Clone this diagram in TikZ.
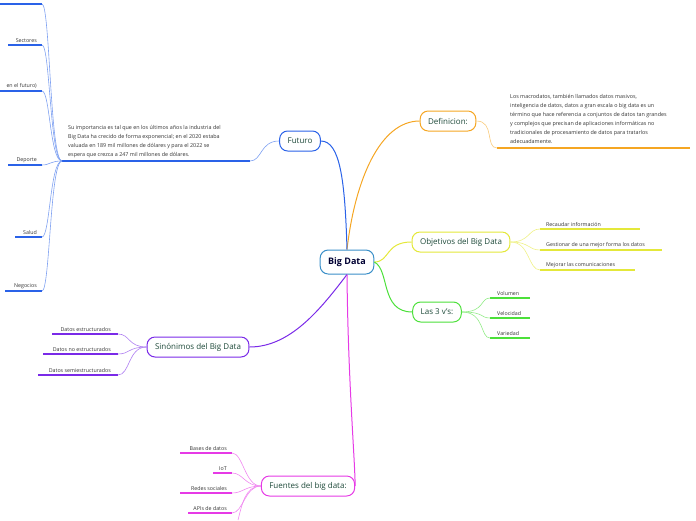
\documentclass[tikz,border=0pt]{standalone}
\usepackage{fontspec}
\setmainfont{Open Sans}
\definecolor{cBD}{HTML}{3A8FC8}
\definecolor{cOr}{HTML}{F5A623}
\definecolor{cYe}{HTML}{E4E83A}
\definecolor{cGr}{HTML}{4CE03A}
\definecolor{cBl}{HTML}{2A62E8}
\definecolor{cPu}{HTML}{7A2AE8}
\definecolor{cMa}{HTML}{E63AE6}
\definecolor{tx}{HTML}{1E4A3A}
\begin{document}
\begin{tikzpicture}[x=1pt,y=-1pt,
  topic/.style={draw=#1,line width=1pt,rounded corners=8pt,fill=white,minimum height=20pt,inner xsep=8pt,font=\fontsize{8}{9}\selectfont,text=tx},
  leaf/.style={font=\fontsize{5.3}{6}\selectfont,text=black!80,anchor=south east,inner sep=1pt},
  para/.style={align=left,inner sep=0pt,font=\fontsize{5.4}{9}\selectfont,text=black!80},
  ul/.style={draw=#1,line width=1.5pt},
  br/.style={draw=#1,line width=1pt},
  tw/.style={draw=#1!60,line width=0.6pt}]
\useasboundingbox (0,0) rectangle (696,520);
% center
\node[topic=cBD,minimum height=24pt,font=\fontsize{9}{10}\selectfont\bfseries,text=black!80!blue] (bd) at (347,262) {Big Data};
% Definicion
\node[topic=cOr] (def) at (448,121) {Definicion:};
\coordinate (defu) at (497,148); \coordinate (defe) at (690,148);
\draw[ul=cOr] (defu) -- (defe);
\node[para,anchor=north west] (deft) at (510,94) {Los macrodatos, también llamados datos masivos,\\ inteligencia de datos, datos a gran escala o big data es un\\ término que hace referencia a conjuntos de datos tan grandes\\ y complejos que precisan de aplicaciones informáticas no\\ tradicionales de procesamiento de datos para tratarlos\\ adecuadamente.};
\draw[tw=cOr] (def.east) .. controls (495,121) and (485,148) .. (defu);
\draw[br=cOr] (bd.north) .. controls (355,180) and (380,121) .. (def.west);
% Objetivos
\node[topic=cYe] (obj) at (461,242) {Objetivos del Big Data};
\foreach \t/\y/\e [count=\i] in {Recaudar información/229/640,Gestionar de una mejor forma los datos/250/662,Mejorar las comunicaciones/270/635}{
  \coordinate (o\i) at (540,\y);
  \draw[ul=cYe] (o\i) -- (\e,\y);
  \node[leaf,anchor=south west] at (545,\y-1) {\t};
  \draw[tw=cYe] (obj.east) .. controls (530,242) and (528,\y) .. (o\i);
}
\draw[br=cYe] (bd.east) .. controls (390,262) and (385,242) .. (obj.west);
% 3 v's
\node[topic=cGr] (v) at (437,312) {Las 3 v's:};
\foreach \t/\y [count=\i] in {Volumen/298,Velocidad/318,Variedad/338}{
  \coordinate (v\i) at (490,\y);
  \draw[ul=cGr] (v\i) -- (530,\y);
  \node[leaf,anchor=south west] at (496,\y-1) {\t};
  \draw[tw=cGr] (v.east) .. controls (485,312) and (480,\y) .. (v\i);
}
\draw[br=cGr] (bd.east) .. controls (390,270) and (380,312) .. (v.west);
% Futuro
\coordinate (fu) at (62,161); \coordinate (fe) at (250,161);
\draw[ul=cBl] (fu) -- (fe);
\node[para,anchor=south west] (futt) at (68,158) {Su importancia es tal que en los últimos años la industria del\\ Big Data ha crecido de forma exponencial; en el 2020 estaba\\ valuada en 189 mil millones de dólares y para el 2022 se\\ espera que crezca a 247 mil millones de dólares.};
\node[topic=cBl] (fut2) at (300,141) {Futuro};
\draw[tw=cBl] (fut2.west) .. controls (260,141) and (262,161) .. (fe);
\draw[br=cBl] (bd.north) .. controls (345,180) and (340,141) .. (fut2.east);
\foreach \t/\y/\s [count=\i] in {/4/0,Sectores/45/8,en el futuro)/91/0,Deporte/165/8,Salud/237/15,Negocios/291/5}{
  \coordinate (f\i) at (42,\y);
  \draw[ul=cBl] (\s,\y) -- (f\i);
  \node[leaf] at (38,\y-1) {\t};
  \draw[tw=cBl] (fu) .. controls (50,161) and (50,\y) .. (f\i);
}
% Sinonimos
\node[topic=cPu] (sin) at (198,347) {Sinónimos del Big Data};
\foreach \t/\y/\s [count=\i] in {Datos estructurados/334/52,Datos no estructurados/354/43,Datos semiestructurados/375/38}{
  \coordinate (s\i) at (118,\y);
  \draw[ul=cPu] (\s,\y) -- (s\i);
  \node[leaf] at (112,\y-1) {\t};
  \draw[tw=cPu] (sin.west) .. controls (128,347) and (130,\y) .. (s\i);
}
\draw[br=cPu] (bd.south) .. controls (320,310) and (290,347) .. (sin.east);
% Fuentes
\node[topic=cMa] (fue) at (308,486) {Fuentes del big data:};
\foreach \t/\y/\s [count=\i] in {Bases de datos/453/180,IoT/473/213,Redes sociales/493/180,APIs de datos/513/188}{
  \coordinate (m\i) at (232,\y);
  \draw[ul=cMa] (\s,\y) -- (m\i);
  \node[leaf] at (228,\y-1) {\t};
  \draw[tw=cMa] (fue.west) .. controls (245,486) and (243,\y) .. (m\i);
}
\coordinate (m5) at (238,520);
\draw[tw=cMa] (fue.west) .. controls (245,486) and (242,505) .. (m5);
\draw[br=cMa] (bd.south) .. controls (348,380) and (355,460) .. (fue.east);
\end{tikzpicture}
\end{document}
